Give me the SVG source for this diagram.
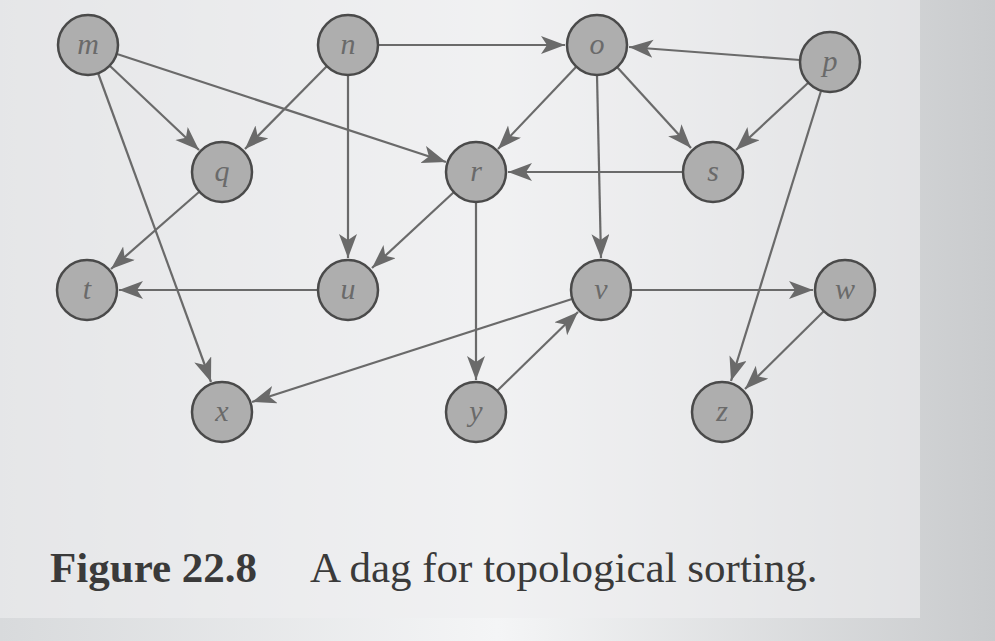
<svg xmlns="http://www.w3.org/2000/svg" width="995" height="641" viewBox="0 0 995 641">
<style>
.e{stroke:#6a6a6a;stroke-width:2.2;fill:none;marker-end:url(#a)}
.n circle{fill:#aeaeae;stroke:#4a4a4a;stroke-width:2.5}
.n text{font-family:"Liberation Serif",serif;font-style:italic;font-size:30px;fill:#6a6a6a;text-anchor:middle}
.c{font-family:"Liberation Serif",serif;font-size:43px;fill:#3a3a3a}
</style>
<defs>
<marker id="a" markerUnits="userSpaceOnUse" markerWidth="26" markerHeight="20" refX="24" refY="9" orient="auto">
<path d="M0,0 L24,9 L0,18 L6,9 Z" fill="#6a6a6a"/>
</marker>
<linearGradient id="bg" x1="0" x2="1" y1="0" y2="0">
<stop offset="0" stop-color="#d8dadc"/><stop offset="0.5" stop-color="#f4f5f6"/><stop offset="1" stop-color="#c9cbcd"/>
</linearGradient>
</defs>
<rect width="995" height="641" fill="url(#bg)"/>
<rect x="0" y="0" width="920" height="618" fill="#eeeff0" opacity="0.6"/>
<g id="edges">
<line class="e" x1="110" y1="66" x2="199" y2="150"/>
<line class="e" x1="117" y1="54" x2="446" y2="162"/>
<line class="e" x1="98" y1="73" x2="211" y2="382"/>
<line class="e" x1="327" y1="66" x2="245" y2="149"/>
<line class="e" x1="348" y1="75" x2="348" y2="258"/>
<line class="e" x1="378" y1="45" x2="565" y2="45"/>
<line class="e" x1="576" y1="67" x2="498" y2="149"/>
<line class="e" x1="617" y1="67" x2="691" y2="148"/>
<line class="e" x1="597" y1="75" x2="601" y2="258"/>
<line class="e" x1="800" y1="60" x2="629" y2="47"/>
<line class="e" x1="808" y1="83" x2="736" y2="150"/>
<line class="e" x1="821" y1="91" x2="731" y2="381"/>
<line class="e" x1="199" y1="192" x2="111" y2="269"/>
<line class="e" x1="454" y1="192" x2="372" y2="268"/>
<line class="e" x1="476" y1="202" x2="476" y2="380"/>
<line class="e" x1="683" y1="172" x2="508" y2="172"/>
<line class="e" x1="318" y1="290" x2="119" y2="290"/>
<line class="e" x1="572" y1="299" x2="252" y2="402"/>
<line class="e" x1="631" y1="290" x2="813" y2="290"/>
<line class="e" x1="824" y1="311" x2="745" y2="389"/>
<line class="e" x1="497" y1="391" x2="578" y2="312"/>
</g>
<g id="m" class="n"><circle cx="88" cy="45" r="30"/><text x="88" y="54">m</text></g>
<g id="n" class="n"><circle cx="348" cy="45" r="30"/><text x="348" y="54">n</text></g>
<g id="o" class="n"><circle cx="597" cy="45" r="30"/><text x="597" y="54">o</text></g>
<g id="p" class="n"><circle cx="830" cy="62" r="30"/><text x="830" y="71">p</text></g>
<g id="q" class="n"><circle cx="222" cy="172" r="30"/><text x="222" y="181">q</text></g>
<g id="r" class="n"><circle cx="476" cy="172" r="30"/><text x="476" y="181">r</text></g>
<g id="s" class="n"><circle cx="713" cy="172" r="30"/><text x="713" y="181">s</text></g>
<g id="t" class="n"><circle cx="87" cy="290" r="30"/><text x="87" y="299">t</text></g>
<g id="u" class="n"><circle cx="348" cy="290" r="30"/><text x="348" y="299">u</text></g>
<g id="v" class="n"><circle cx="601" cy="290" r="30"/><text x="601" y="299">v</text></g>
<g id="w" class="n"><circle cx="845" cy="290" r="30"/><text x="845" y="299">w</text></g>
<g id="x" class="n"><circle cx="222" cy="412" r="30"/><text x="222" y="421">x</text></g>
<g id="y" class="n"><circle cx="476" cy="412" r="30"/><text x="476" y="421">y</text></g>
<g id="z" class="n"><circle cx="722" cy="412" r="30"/><text x="722" y="421">z</text></g>
<text class="c" x="50" y="582"><tspan font-weight="bold">Figure 22.8</tspan><tspan x="310">A dag for topological sorting.</tspan></text>
</svg>
